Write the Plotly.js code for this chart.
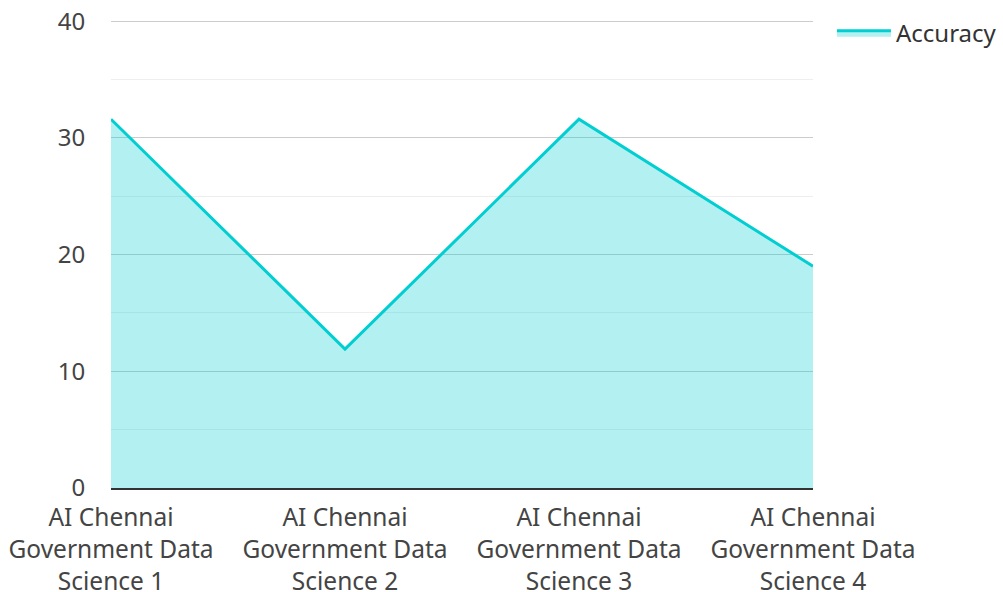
<!DOCTYPE html>
<html>
<head>
<meta charset="utf-8">
<script src="https://cdn.plot.ly/plotly-3.0.1.min.js"></script>
<style>html,body{margin:0;padding:0;background:#fff;}#chart{width:1003px;height:592px;}</style>
</head>
<body>
<div id="chart"></div>
<script>
var categories = ["AI Chennai<br>Government Data<br>Science 1", "AI Chennai<br>Government Data<br>Science 2", "AI Chennai<br>Government Data<br>Science 3", "AI Chennai<br>Government Data<br>Science 4"];
var accuracy = [31.6, 11.9, 31.6, 19.0];
var yTicks = [0, 10, 20, 30, 40];

var trace = {
  x: categories,
  y: accuracy,
  type: 'scatter',
  mode: 'lines',
  name: 'Accuracy',
  fill: 'tozeroy',
  fillcolor: 'rgba(0,206,209,0.3)',
  line: {color: '#00CED1', width: 3}
};

var layout = {
  width: 1003, height: 592,
  margin: {l: 111, r: 190, t: 20, b: 104, autoexpand: false},
  paper_bgcolor: '#fff', plot_bgcolor: '#fff',
  font: {family: 'Noto Sans, Open Sans, sans-serif', size: 24, color: '#444'},
  showlegend: true,
  legend: {x: 1.027, y: 1.02, xanchor: 'left', yanchor: 'top', itemwidth: 54,
           font: {size: 24, color: '#333'}, bgcolor: 'rgba(0,0,0,0)'},
  xaxis: {
    type: 'category',
    range: [0, 3],
    showgrid: false,
    showline: true, linecolor: '#333', linewidth: 2,
    ticks: 'outside', ticklen: 0, ticklabelstandoff: 7, zeroline: false,
    tickfont: {size: 24.5, color: '#444'}
  },
  yaxis: {
    range: [0, 40.1],
    tickvals: yTicks,
    showgrid: true, gridcolor: '#ccc', gridwidth: 1,
    minor: {dtick: 5, showgrid: true, gridcolor: '#eee', gridwidth: 1},
    zeroline: false, showline: false,
    ticks: 'outside', ticklen: 0, ticklabelstandoff: 20,
    tickfont: {size: 24, color: '#444'}
  }
};

Plotly.newPlot('chart', [trace], layout, {displayModeBar: false, staticPlot: true});
</script>
</body>
</html>
